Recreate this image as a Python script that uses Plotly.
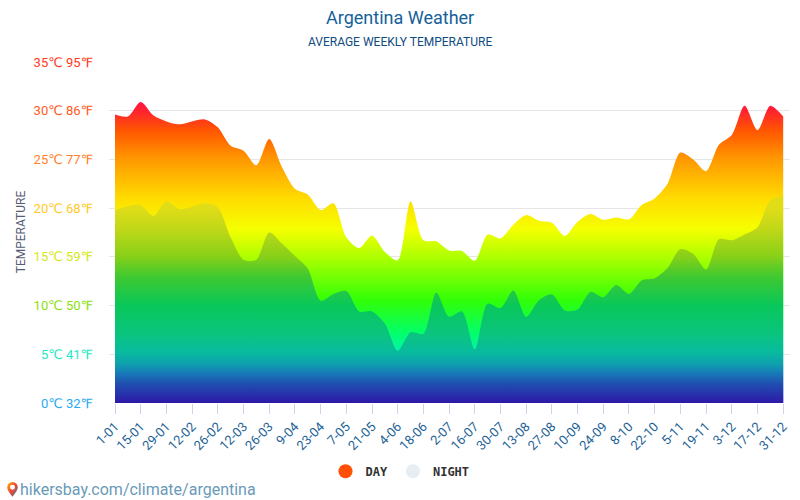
import base64
import plotly.graph_objects as go

# weekly dates, one point every 7 days
weeks = ["1-01", "8-01", "15-01", "22-01", "29-01", "5-02", "12-02", "19-02", "26-02",
         "5-03", "12-03", "19-03", "26-03", "2-04", "9-04", "16-04", "23-04", "30-04",
         "7-05", "14-05", "21-05", "28-05", "4-06", "11-06", "18-06", "25-06", "2-07",
         "9-07", "16-07", "23-07", "30-07", "6-08", "13-08", "20-08", "27-08", "3-09",
         "10-09", "17-09", "24-09", "1-10", "8-10", "15-10", "22-10", "29-10", "5-11",
         "12-11", "19-11", "26-11", "3-12", "10-12", "17-12", "24-12", "31-12"]

day = [29.6, 29.4, 30.9, 29.5, 28.9, 28.6, 28.9, 29.1, 28.3, 26.4, 25.9, 24.4, 27.1, 24.2,
       22.0, 21.4, 19.8, 20.5, 17.0, 15.9, 17.2, 15.5, 14.65, 20.7, 16.7, 16.6, 15.65,
       15.6, 14.6, 17.3, 16.9, 18.3, 19.3, 18.7, 18.5, 17.15, 18.6, 19.4, 18.8, 19.05,
       18.85, 20.35, 21.0, 22.5, 25.7, 25.0, 23.8, 26.5, 27.5, 30.5, 28.0, 30.5, 29.4]

night = [19.8, 20.2, 20.3, 19.2, 20.7, 19.9, 20.15, 20.5, 20.1, 17.0, 14.7, 14.7, 17.5,
         16.35, 15.1, 13.8, 10.5, 11.2, 11.5, 9.4, 9.4, 8.15, 5.35, 7.25, 7.1, 11.35,
         8.85, 9.4, 5.5, 10.2, 9.75, 11.55, 8.85, 10.55, 11.15, 9.5, 9.6, 11.4, 10.85,
         12.1, 11.2, 12.6, 12.8, 13.85, 15.8, 15.3, 13.7, 16.8, 16.7, 17.3, 18.05, 20.8,
         21.25]

temp_c = [0, 5, 10, 15, 20, 25, 30, 35]
temp_f = [32, 41, 50, 59, 68, 77, 86, 95]
temp_colors = ["#29a9f0", "#1de9c0", "#8ce010", "#d4e814", "#ffc91f", "#ff7f2a", "#ff5a1a", "#ff3a1a"]

day_scale = [[0, "#2e18a8"], [0.143, "#08f0b0"], [0.2, "#00ff70"], [0.3, "#30ff08"],
             [0.43, "#b0ff00"], [0.51, "#f5ff00"], [0.6, "#ffdc00"], [0.72, "#ff9500"],
             [0.8, "#ff5500"], [0.857, "#ff2230"], [0.885, "#ff1444"], [1, "#ff0f60"]]
night_scale = [[0, "#2e18a8"], [0.057, "#1f50b0"], [0.086, "#1878b8"], [0.114, "#0ea0ae"],
               [0.15, "#08bb9e"], [0.2, "#0ac480"], [0.286, "#09c75a"], [0.371, "#40c930"],
               [0.43, "#88d018"], [0.51, "#c0d818"], [0.57, "#e0dc18"], [1, "#e0dc18"]]

# small map pin next to the url
pin = """<svg xmlns="http://www.w3.org/2000/svg" viewBox="0 0 12 16">
<defs><linearGradient id="g" x1="0" y1="0" x2="1" y2="1">
<stop offset="0" stop-color="#ffb000"/><stop offset="0.5" stop-color="#f04438"/>
<stop offset="1" stop-color="#1a8fa8"/></linearGradient></defs>
<path fill="url(#g)" fill-rule="evenodd" d="M6 0.5a5.3 5.3 0 0 1 5.3 5.3c0 3.4-3.4 6.8-5.3 9.7C4.1 12.6 0.7 9.2 0.7 5.8A5.3 5.3 0 0 1 6 0.5zM6 3.3a2.5 2.5 0 1 0 0 5a2.5 2.5 0 1 0 0-5z"/>
</svg>"""
pin_src = "data:image/svg+xml;base64," + base64.b64encode(pin.encode()).decode()

fig = go.Figure()
fig.add_trace(go.Scatter(x=weeks, y=day, mode="lines", fill="tozeroy", showlegend=False,
                         line=dict(width=0, shape="spline", smoothing=0.8),
                         fillgradient=dict(type="vertical", colorscale=day_scale, start=0, stop=35)))
fig.add_trace(go.Scatter(x=weeks, y=night, mode="lines", fill="tozeroy", showlegend=False,
                         line=dict(width=0, shape="spline", smoothing=0.8),
                         fillgradient=dict(type="vertical", colorscale=night_scale, start=0, stop=35)))

# legend entries only
fig.add_trace(go.Scatter(x=[None], y=[None], mode="markers", name="DAY",
                         marker=dict(size=14, color="#ff5005")))
fig.add_trace(go.Scatter(x=[None], y=[None], mode="markers", name="NIGHT",
                         marker=dict(size=14, color="#e6edf3")))

fig.update_layout(
    width=800, height=500,
    margin=dict(l=109, r=10, t=61.5, b=97),
    paper_bgcolor="white", plot_bgcolor="white",
    font=dict(family="Roboto, DejaVu Sans, sans-serif", size=12),
    legend=dict(orientation="h", x=(400 - 109) / 681, xanchor="center", y=-0.2, yanchor="middle",
                font=dict(family="DejaVu Sans Mono", size=12, color="#333333", weight=700),
                itemwidth=30),
    images=[dict(source=pin_src, xref="paper", yref="paper", x=(6.5 - 109) / 681, y=(403 - 481.5) / 341.5,
                 sizex=12 / 681, sizey=16 / 341.5, xanchor="left", yanchor="top", sizing="contain")],
)

def add_text(text, px, py, size, color, xanchor="center", **kw):
    # pixel position on the page converted to paper coordinates
    fig.add_annotation(text=text, x=(px - 109) / 681, y=(403 - py) / 341.5, xref="paper", yref="paper",
                       showarrow=False, xanchor=xanchor, yanchor="middle",
                       font=dict(size=size, color=color), **kw)

add_text("Argentina Weather", 400, 17, 18, "#15619b")
add_text("AVERAGE WEEKLY TEMPERATURE", 400, 41.5, 12, "#0f4c81")
add_text("hikersbay.com/climate/argentina", 17.5, 489.5, 16, "#6a9ab8", xanchor="left")
add_text("TEMPERATURE", 21, 232, 12, "#555e75", textangle=-90)

fig.update_xaxes(range=[-0.467, 52.53], type="category", categoryorder="array", categoryarray=weeks,
                 tickmode="array", tickvals=weeks[::2], ticktext=weeks[::2], tickangle=-45,
                 ticks="outside", ticklen=10, tickcolor="#ccd6eb", tickwidth=1,
                 tickfont=dict(size=13, color="#1d6296"), showgrid=False, zeroline=False, showline=False)
fig.update_yaxes(range=[0, 35], tickmode="array", tickvals=temp_c,
                 ticktext=[f'<span style="color:{col}">{c}℃ {f}℉</span>' for c, f, col in zip(temp_c, temp_f, temp_colors)],
                 gridcolor="#e6e6e6", gridwidth=1, zeroline=False, showline=False,
                 ticks="", ticklabelstandoff=15, tickfont=dict(size=13))

# default body margin would shift the chart by 8px
fig.write_html("out.html", config=dict(displayModeBar=False), post_script="document.body.style.margin='0';")
